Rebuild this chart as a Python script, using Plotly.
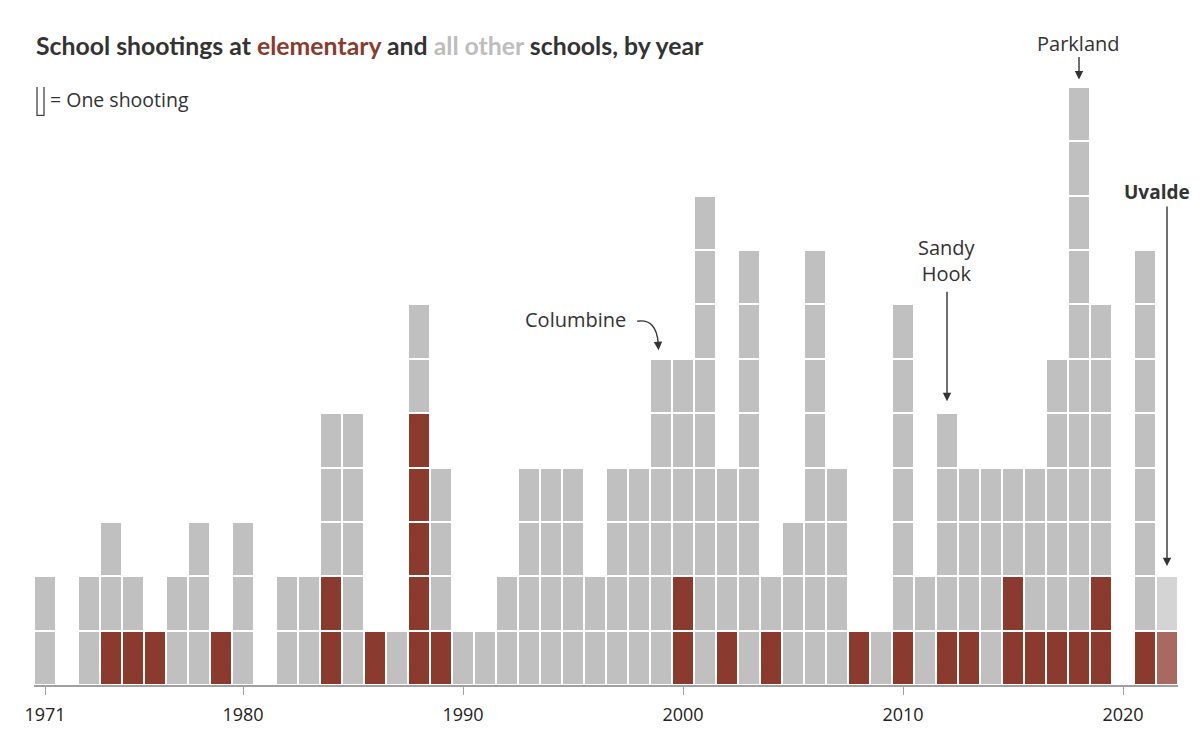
import plotly.graph_objects as go

years = list(range(1971, 2023))
elementary = [0,0,0,1,1,1,0,0,1,0, 0,0,0,2,0,1,0,5,1,0,
              0,0,0,0,0,0,0,0,0,2, 0,1,0,1,0,0,0,1,0,1,
              0,1,1,0,2,1,1,1,2,0, 1,1]
other = [2,0,2,2,1,0,2,3,0,3, 0,2,2,3,5,0,1,2,3,1,
         1,2,4,4,4,2,4,4,6,4, 9,3,8,1,3,8,4,0,1,6,
         2,4,3,4,2,3,5,10,5,0, 7,1]
tick_years = [1971, 1980, 1990, 2000, 2010, 2020]
partial_year = 2022

RED = "#8B3A2E"; GRAY = "#C0C0C0"
RED_LT = "#A86A60"; GRAY_LT = "#D4D4D4"
TXT = "#333333"
TFONT = "Lato"
FONT = "Open Sans"

W, H = 1200, 737
XL, XR = 33.5, 1178.0
YB, UNIT = 685.0, 54.4
X0, X1 = years[0] - 0.5, years[-1] + 0.5
YMAX = 11.0
top_px = YB - YMAX * UNIT

def px2x(px):
    return X0 + (px - XL) * (X1 - X0) / (XR - XL)

def py2y(py):
    return (YB - py) / UNIT

def px2p(px):
    return (px - XL) / (XR - XL)

def py2p(py):
    return (YB - py) / (YB - top_px)

# expand into unit cells
cx, cb, cc = [], [], []
for yr, e, o in zip(years, elementary, other):
    for k in range(e + o):
        cx.append(yr)
        cb.append(k)
        is_e = k < e
        if yr == partial_year:
            cc.append(RED_LT if is_e else GRAY_LT)
        else:
            cc.append(RED if is_e else GRAY)

fig = go.Figure()
fig.add_trace(go.Bar(
    x=cx, y=[1] * len(cx), base=cb, width=0.97,
    marker=dict(color=cc, line=dict(color="white", width=2)),
    hoverinfo="skip", showlegend=False,
))

fig.update_layout(
    width=W, height=H,
    margin=dict(l=XL, r=W - XR, t=top_px, b=H - YB, autoexpand=False),
    paper_bgcolor="white", plot_bgcolor="white",
    barmode="overlay", bargap=0,
    font=dict(family=FONT, color=TXT),
    xaxis=dict(range=[X0, X1], showgrid=False, zeroline=False,
               showline=True, linecolor="#A0A0A0", linewidth=1.5,
               ticks="outside", ticklen=8, tickcolor="#A0A0A0", tickwidth=1.2,
               tickvals=tick_years, ticktext=[str(t) for t in tick_years],
               ticklabelstandoff=5,
               tickfont=dict(family=FONT, size=18, color="#222")),
    yaxis=dict(range=[0, YMAX], visible=False, fixedrange=True),
)

ann = []
# title
ann.append(dict(
    xref="paper", yref="paper", x=px2p(34), y=py2p(45),
    xanchor="left", yanchor="middle", showarrow=False,
    text=("<b>School shootings at <span style='color:%s'>elementary</span> and "
          "<span style='color:#BDBDBD'>all other</span> schools, by year</b>") % RED,
    font=dict(family=TFONT, size=24.8, color=TXT)))
# legend text
ann.append(dict(xref="paper", yref="paper", x=px2p(48), y=py2p(99),
                xanchor="left", yanchor="middle", showarrow=False,
                text="= One shooting", font=dict(family=FONT, size=19.5, color=TXT)))

def label(text, px, py, anchor="center", bold=False, size=20):
    ann.append(dict(xref="paper", yref="paper", x=px2p(px), y=py2p(py),
                    xanchor=anchor, yanchor="middle", showarrow=False,
                    text=("<b>%s</b>" % text) if bold else text,
                    font=dict(family=FONT, size=size, color=TXT)))

def arrow(year, top_count, tail_py, tip_py):
    top_py = YB - top_count * UNIT
    ann.append(dict(x=year, y=top_count, ax=0, ay=tail_py - top_py, axref="pixel", ayref="pixel",
                    text="", showarrow=True, arrowhead=2, arrowsize=1.2, arrowwidth=1.4,
                    arrowcolor=TXT, standoff=top_py - tip_py))

tot = {yr: e + o for yr, e, o in zip(years, elementary, other)}
label("Parkland", 1078, 43)
arrow(2018, tot[2018], 55, 79)
label("Sandy<br>Hook", 947, 260)
arrow(2012, tot[2012], 290, 401)
label("Uvalde", 1192, 192, anchor="right", bold=True, size=19)
arrow(2022, tot[2022], 205, 566)
label("Columbine", 628, 319, anchor="right")

# Columbine curved arrow
p0 = (px2x(637), py2y(321)); pc = (px2x(656), py2y(318)); p1 = (px2x(658), py2y(343))
shapes = [dict(type="path", xref="x", yref="y",
               path="M %f,%f Q %f,%f %f,%f" % (p0[0], p0[1], pc[0], pc[1], p1[0], p1[1]),
               line=dict(color=TXT, width=1.4))]
ann.append(dict(x=px2x(658.3), y=py2y(350), ax=px2x(657.8), ay=py2y(342), axref="x", ayref="y",
                text="", showarrow=True, arrowhead=2, arrowsize=1.2, arrowwidth=1.4,
                arrowcolor=TXT, standoff=0))
# legend symbol
shapes.append(dict(type="rect", xref="x", yref="y",
                   x0=px2x(36.5), x1=px2x(43.5), y0=py2y(115), y1=py2y(83),
                   line=dict(color="#444", width=1.3), fillcolor="white"))

fig.update_layout(annotations=ann, shapes=shapes)
fig.write_html("out.html")
